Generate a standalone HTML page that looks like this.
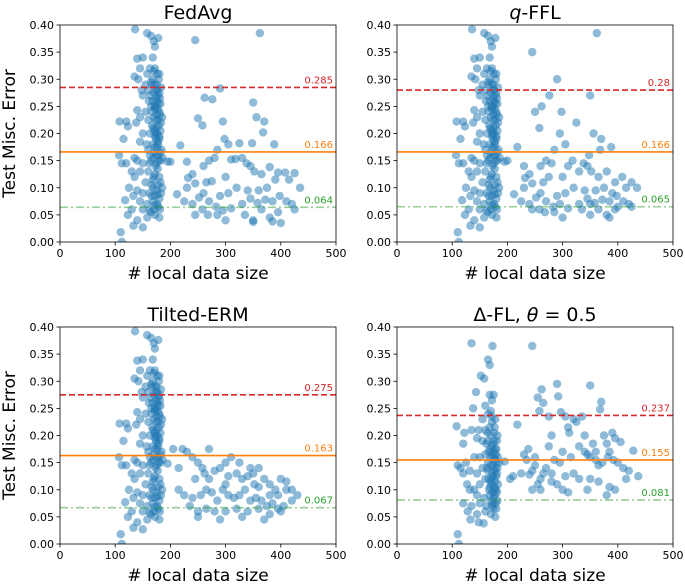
<!DOCTYPE html>
<html><head><meta charset="utf-8"><style>
html,body{margin:0;padding:0;background:#fff}
svg{display:block;font-family:"DejaVu Sans","Liberation Sans",sans-serif}
</style></head><body>
<svg id="chart" width="685" height="585" xmlns="http://www.w3.org/2000/svg"></svg>
<script>
const xTicks=[0,100,200,300,400,500];
const yTicks=[0,0.05,0.10,0.15,0.20,0.25,0.30,0.35,0.40];
const titles=["FedAvg","q-FFL","Tilted-ERM","Δ-FL, θ = 0.5"];
const lineRed=[0.285,0.28,0.275,0.237];
const lineOrange=[0.166,0.166,0.163,0.155];
const lineGreen=[0.064,0.065,0.067,0.081];
const clusterA=[[136,0.392],[158,0.385],[165,0.38],[178,0.376],[170,0.37],[172,0.36],[140,0.338],[150,0.34],[168,0.34],[145,0.32],[158,0.31],[163,0.32],[172,0.32],[180,0.31],[135,0.305],[142,0.30],[155,0.29],[165,0.295],[175,0.29],[183,0.285],[148,0.28],[160,0.28],[170,0.275],[178,0.27],[150,0.27],[168,0.26],[176,0.26],[182,0.255],[165,0.25],[172,0.245],[180,0.24],[140,0.243],[155,0.24],[170,0.23],[178,0.225],[185,0.23],[145,0.23],[160,0.225],[167,0.215],[175,0.21],[182,0.205],[108,0.222],[120,0.222],[123,0.213],[138,0.22],[150,0.2],[163,0.2],[172,0.195],[180,0.19],[115,0.19],[145,0.185],[157,0.18],[168,0.18],[176,0.175],[184,0.17],[160,0.17],[170,0.165],[178,0.16],[186,0.155],[107,0.16],[112,0.145],[120,0.145],[135,0.155],[140,0.15],[150,0.145],[165,0.15],[175,0.145],[182,0.15],[195,0.148],[130,0.13],[145,0.13],[160,0.13],[172,0.125],[180,0.12],[135,0.12],[155,0.11],[168,0.115],[178,0.105],[185,0.1],[125,0.1],[140,0.095],[150,0.09],[162,0.09],[172,0.085],[180,0.08],[118,0.077],[133,0.085],[145,0.075],[158,0.07],[168,0.075],[178,0.065],[130,0.06],[150,0.06],[162,0.058],[172,0.05],[180,0.045],[123,0.05],[140,0.04],[158,0.045],[150,0.027],[133,0.03],[110,0.018],[112,0.0],[170,0.06],[165,0.055],[176,0.07],[183,0.09],[174,0.28],[179,0.3],[167,0.29],[173,0.2],[177,0.185],[171,0.25],[166,0.24],[181,0.265],[169,0.21],[175,0.235],
[172,0.29],[176,0.28],[180,0.275],[174,0.265],[178,0.255],[173,0.25],[177,0.245],[181,0.235],[174,0.225],[179,0.215],[171,0.205],[176,0.2],[180,0.195],[174,0.19],[178,0.18],[172,0.175],[182,0.165],[175,0.16],[169,0.155],[179,0.15],[173,0.14],[177,0.135],[170,0.12],[182,0.11],[175,0.095],[169,0.1],[177,0.088],[172,0.068],[166,0.085],[181,0.06],[168,0.3],[176,0.31],[170,0.315],[183,0.22],[164,0.27],[161,0.26],[163,0.16],[162,0.145],[166,0.105]];
const rightA=[[245,0.372],[362,0.385],[200,0.148],[218,0.178],[230,0.148],[250,0.228],[258,0.215],[262,0.266],[276,0.263],[290,0.283],[295,0.222],[298,0.19],[305,0.18],[325,0.182],[350,0.257],[356,0.23],[370,0.222],[368,0.202],[388,0.18],[348,0.182],[285,0.17],[280,0.155],[270,0.15],[260,0.14],[232,0.118],[240,0.125],[245,0.108],[265,0.11],[275,0.112],[300,0.12],[310,0.152],[318,0.153],[330,0.155],[338,0.145],[345,0.14],[352,0.13],[365,0.125],[380,0.138],[395,0.128],[408,0.128],[425,0.127],[415,0.115],[435,0.1],[390,0.115],[375,0.1],[360,0.095],[340,0.095],[320,0.1],[305,0.09],[290,0.085],[260,0.09],[252,0.082],[230,0.1],[212,0.088],[225,0.075],[240,0.07],[258,0.06],[270,0.075],[283,0.065],[295,0.058],[310,0.062],[330,0.07],[345,0.08],[358,0.072],[372,0.078],[385,0.075],[398,0.085],[410,0.075],[420,0.07],[425,0.06],[395,0.055],[380,0.045],[365,0.06],[350,0.04],[335,0.05],[300,0.04],[285,0.05],[268,0.05],[245,0.05],[400,0.035],[385,0.038],[350,0.037]];
const rightB=[[245,0.35],[362,0.385],[200,0.15],[218,0.175],[230,0.14],[250,0.24],[258,0.21],[262,0.25],[276,0.27],[290,0.3],[295,0.2],[298,0.24],[305,0.18],[325,0.22],[350,0.27],[356,0.2],[370,0.19],[368,0.17],[388,0.175],[348,0.16],[285,0.17],[280,0.145],[270,0.15],[260,0.14],[232,0.118],[240,0.125],[245,0.108],[265,0.11],[275,0.12],[300,0.12],[310,0.14],[318,0.15],[330,0.13],[338,0.145],[345,0.14],[352,0.13],[365,0.12],[380,0.13],[395,0.11],[408,0.12],[425,0.11],[415,0.1],[435,0.1],[390,0.09],[375,0.1],[360,0.095],[340,0.095],[320,0.1],[305,0.09],[290,0.085],[260,0.09],[252,0.082],[230,0.1],[212,0.088],[225,0.075],[240,0.07],[258,0.06],[270,0.075],[283,0.065],[295,0.07],[310,0.062],[330,0.07],[345,0.08],[358,0.072],[372,0.078],[385,0.075],[398,0.085],[410,0.075],[420,0.07],[425,0.065],[395,0.06],[380,0.05],[365,0.06],[350,0.05],[335,0.06],[300,0.045],[285,0.055],[268,0.055],[245,0.06],[400,0.065],[385,0.045],[350,0.07]];
const rightC=[[215,0.14],[222,0.175],[230,0.17],[240,0.16],[250,0.15],[258,0.14],[262,0.13],[270,0.12],[280,0.135],[290,0.14],[300,0.15],[310,0.16],[320,0.13],[330,0.12],[340,0.125],[350,0.13],[360,0.14],[370,0.12],[380,0.11],[390,0.1],[400,0.12],[410,0.115],[420,0.1],[430,0.09],[215,0.1],[225,0.09],[240,0.085],[255,0.09],[265,0.1],[275,0.095],[285,0.08],[295,0.1],[305,0.09],[315,0.085],[325,0.09],[335,0.1],[345,0.08],[355,0.085],[365,0.08],[375,0.07],[385,0.075],[395,0.065],[405,0.07],[235,0.07],[250,0.06],[265,0.065],[280,0.06],[300,0.06],[320,0.065],[340,0.06],[360,0.065],[380,0.055],[400,0.06],[250,0.05],[290,0.045],[330,0.05],[370,0.045],[410,0.1],[245,0.12],[300,0.11],[360,0.105],[270,0.175],[325,0.15],[345,0.14],[395,0.09],[205,0.175],[305,0.125],[352,0.11],[380,0.09],[420,0.08]];
const clusterD=[[135,0.37],[173,0.365],[165,0.34],[168,0.33],[152,0.31],[158,0.305],[168,0.275],[175,0.275],[172,0.265],[143,0.28],[138,0.25],[160,0.255],[165,0.24],[172,0.235],[178,0.23],[155,0.23],[148,0.21],[160,0.21],[168,0.215],[176,0.205],[182,0.2],[108,0.217],[122,0.205],[135,0.21],[145,0.195],[155,0.19],[165,0.19],[172,0.18],[180,0.175],[120,0.185],[110,0.145],[115,0.14],[125,0.15],[140,0.16],[150,0.16],[160,0.165],[170,0.16],[178,0.155],[185,0.15],[195,0.152],[120,0.13],[132,0.135],[145,0.13],[155,0.14],[165,0.135],[172,0.13],[180,0.125],[127,0.11],[140,0.1],[150,0.11],[160,0.12],[168,0.105],[176,0.1],[183,0.11],[132,0.1],[145,0.09],[158,0.085],[168,0.09],[175,0.085],[182,0.08],[120,0.075],[135,0.07],[150,0.075],[162,0.07],[172,0.07],[180,0.065],[128,0.06],[145,0.055],[160,0.06],[170,0.055],[178,0.05],[133,0.045],[148,0.04],[157,0.038],[110,0.018],[112,0.0],[165,0.15],[170,0.145],[175,0.17],[162,0.185],[178,0.14],[173,0.12],[167,0.1],[181,0.095],[170,0.2],[176,0.19],[166,0.17],[179,0.165],[171,0.11],[174,0.075],
[172,0.225],[177,0.215],[181,0.19],[174,0.185],[178,0.175],[171,0.165],[176,0.16],[180,0.15],[173,0.145],[177,0.135],[181,0.13],[174,0.125],[178,0.115],[170,0.115],[176,0.105],[180,0.1],[173,0.095],[177,0.09],[171,0.08],[179,0.075],[175,0.065],[166,0.12],[163,0.14],[168,0.175],[164,0.205],[170,0.245],[183,0.16],[182,0.14]];
const rightD=[[245,0.365],[218,0.22],[230,0.165],[235,0.155],[245,0.135],[250,0.16],[255,0.27],[258,0.245],[262,0.285],[265,0.26],[275,0.235],[280,0.2],[290,0.295],[292,0.272],[297,0.243],[305,0.235],[310,0.215],[312,0.205],[320,0.23],[325,0.225],[335,0.235],[340,0.17],[345,0.165],[350,0.292],[355,0.185],[360,0.155],[365,0.145],[370,0.262],[368,0.248],[375,0.2],[380,0.185],[385,0.17],[390,0.205],[395,0.195],[405,0.188],[400,0.15],[410,0.14],[420,0.135],[428,0.172],[437,0.125],[415,0.12],[395,0.1],[380,0.09],[385,0.105],[365,0.115],[350,0.12],[345,0.1],[330,0.12],[320,0.13],[305,0.125],[300,0.1],[310,0.095],[290,0.11],[280,0.115],[270,0.14],[260,0.12],[260,0.1],[255,0.11],[245,0.1],[240,0.128],[225,0.13],[210,0.125],[205,0.12],[275,0.18],[285,0.155],[295,0.15],[300,0.17],[315,0.16],[330,0.18],[340,0.2],[350,0.16],[360,0.17],[372,0.15],[382,0.16],[392,0.155],[238,0.175],[250,0.145],[265,0.13],[280,0.13]];
const seriesPts=[clusterA.concat(rightA),clusterA.concat(rightB),clusterA.concat(rightC),clusterD.concat(rightD)];

const svg=document.getElementById('chart');
const NS='http://www.w3.org/2000/svg';
const panels=[{x0:60,x1:336,y0:25,y1:242},{x0:397,x1:673,y0:25,y1:242},{x0:60,x1:336,y0:327,y1:544},{x0:397,x1:673,y0:327,y1:544}];
function mk(tag,attrs,parent){const e=document.createElementNS(NS,tag);for(const k in attrs)e.setAttribute(k,attrs[k]);(parent||svg).appendChild(e);return e;}
panels.forEach((p,i)=>{
  const g=mk('g',{});
  
  
  const sx=v=>p.x0+(v/500)*(p.x1-p.x0);
  const sy=v=>p.y1-(v/0.4)*(p.y1-p.y0);
  const clip=mk('clipPath',{id:'c'+i},g);
  mk('rect',{x:p.x0,y:p.y0,width:p.x1-p.x0,height:p.y1-p.y0},clip);
  const pts=mk('g',{'clip-path':'url(#c'+i+')'},g);
  
  
  seriesPts[i].forEach(d=>{
    const c=mk('circle',{cx:sx(d[0]),cy:sy(d[1]),r:4.2,fill:'#1f77b4','fill-opacity':0.5},pts);
    
    
  });
  const lines=[[lineRed[i],'#d62728','6,3',1,'red-line'],[lineOrange[i],'#ff7f0e','',1,'orange-line'],[lineGreen[i],'#2ca02c','8,3,2,3',0.5,'green-line']];
  lines.forEach(l=>{
    const ln=mk('line',{x1:p.x0,x2:p.x1,y1:sy(l[0]),y2:sy(l[0]),stroke:l[1],'stroke-width':1.6,'stroke-dasharray':l[2],'stroke-opacity':l[3]},g);
    
    
    const t=mk('text',{x:p.x1-3,y:sy(l[0])-4,'text-anchor':'end','font-size':10,fill:l[1]},g);
    
    
    t.textContent=String(l[0]);
  });
  const fr=mk('rect',{x:p.x0,y:p.y0,width:p.x1-p.x0,height:p.y1-p.y0,fill:'none',stroke:'#000','stroke-width':0.8},g);
  
  
  xTicks.forEach(v=>{
    mk('line',{x1:sx(v),x2:sx(v),y1:p.y1,y2:p.y1+3.5,stroke:'#000','stroke-width':0.8},g);
    const t=mk('text',{x:sx(v),y:p.y1+15,'text-anchor':'middle','font-size':11},g);
    
    
    t.textContent=v;
  });
  yTicks.forEach(v=>{
    mk('line',{x1:p.x0-3.5,x2:p.x0,y1:sy(v),y2:sy(v),stroke:'#000','stroke-width':0.8},g);
    const t=mk('text',{x:p.x0-6,y:sy(v)+4,'text-anchor':'end','font-size':11},g);
    
    
    t.textContent=v.toFixed(2);
  });
  const xt=mk('text',{x:(p.x0+p.x1)/2,y:p.y1+37,'text-anchor':'middle','font-size':17},g);
  
  
  xt.textContent='# local data size';
  const tt=mk('text',{x:(p.x0+p.x1)/2,y:p.y0-6,'text-anchor':'middle','font-size':19},g);
  
  
  if(i===1){tt.innerHTML='<tspan font-style="italic">q</tspan>-FFL';}
  else if(i===3){tt.innerHTML='Δ-FL, <tspan font-style="italic">θ</tspan> = 0.5';}
  else tt.textContent=titles[i];
  if(i%2===0){
    const yt=mk('text',{x:0,y:0,'text-anchor':'middle','font-size':17,transform:'translate(15,'+((p.y0+p.y1)/2)+') rotate(-90)'},g);
    
    
    yt.textContent='Test Misc. Error';
  }
});
</script>
</body></html>
